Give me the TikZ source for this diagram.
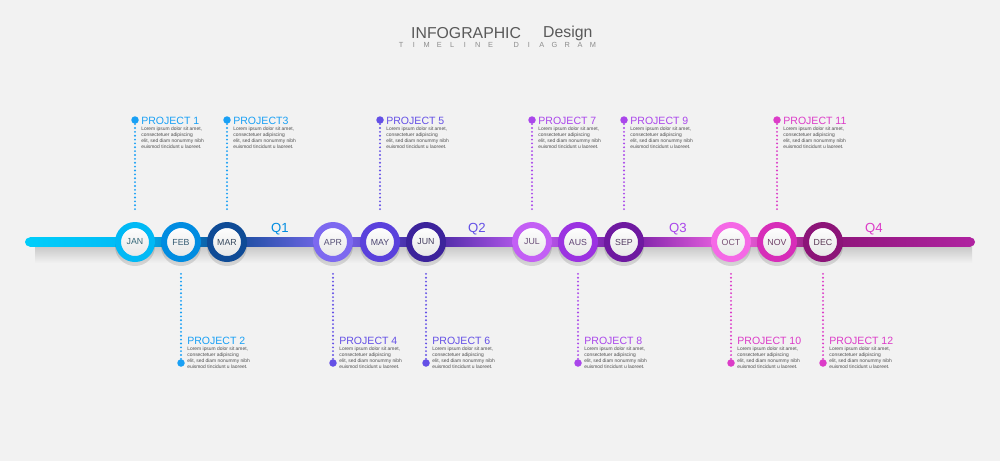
\documentclass[tikz,border=0pt]{standalone}
\usepackage{fontspec}
\setmainfont{Liberation Sans}
\definecolor{bg}{RGB}{242,242,242}
\definecolor{b0}{RGB}{0,205,250}
\definecolor{c1}{RGB}{0,185,245}
\definecolor{c2}{RGB}{0,140,225}
\definecolor{c3}{RGB}{15,75,150}
\definecolor{c4}{RGB}{125,105,240}
\definecolor{c5}{RGB}{90,65,220}
\definecolor{c6}{RGB}{60,35,155}
\definecolor{c7}{RGB}{195,95,245}
\definecolor{c8}{RGB}{155,50,225}
\definecolor{c9}{RGB}{110,25,160}
\definecolor{c10}{RGB}{245,105,230}
\definecolor{c11}{RGB}{215,45,185}
\definecolor{c12}{RGB}{140,20,120}
\definecolor{b13}{RGB}{175,35,160}
\definecolor{pa}{RGB}{25,160,245}
\definecolor{pb}{RGB}{100,80,230}
\definecolor{pc}{RGB}{170,70,235}
\definecolor{pd}{RGB}{220,60,200}
\newcommand{\lorem}{Lorem ipsum dolor sit amet,\\consectetuer adipiscing\\elit, sed diam nonummy nibh\\euismod tincidunt u laoreet.}
\begin{document}
\begin{tikzpicture}[x=0.02cm,y=-0.02cm,
  month/.style={circle,inner sep=0pt,minimum size=0.68cm,line width=3.4pt,
    top color=white,bottom color=gray!20,font=\fontsize{5}{6}\selectfont},
  dot/.style={circle,inner sep=0pt,minimum size=0.15cm},
  title/.style={anchor=west,inner sep=0pt,font=\fontsize{6}{7}\selectfont},
  body/.style={anchor=north west,inner sep=0pt,align=left,text=black!70,
    font=\fontsize{2.8}{3.3}\selectfont},
  link/.style={line width=1.2pt,line cap=round,dash pattern=on 0pt off 2.2pt,shorten >=6pt},
  quarter/.style={font=\fontsize{7.5}{8}\selectfont}]
  \useasboundingbox (0,0) rectangle (1000,461);
  \fill[bg] (0,0) rectangle (1000,461);
  % heading
  \node[anchor=west,text=black!65,font=\fontsize{9}{10}\selectfont] (info) at (405,33) {INFOGRAPHIC};
  \node[anchor=west,text=black!65,font=\fontsize{9}{10}\selectfont] (design) at (537,33) {Design};
  \foreach [count=\i] \l in {T,I,M,E,L,I,N,E,{},D,I,A,G,R,A,M}
    \node[text=black!45,font=\fontsize{4.2}{5}\selectfont] (tl\i) at ({401+(\i-1)*12.8},45) {\l};
  % time bar
  \shade[top color=black!18!bg,bottom color=bg] (35,246) rectangle (972,263);
  \fill[b0] (29.5,242) circle (4.5);
  \fill[b13] (970.5,242) circle (4.5);
  \foreach \xa/\xb/\ca/\cb in {29.5/135/b0/c1,135/227/c1/c3,227/333/c3/c4,333/426/c4/c6,
      426/532/c6/c7,532/624/c7/c9,624/731/c9/c10,731/823/c10/c12,823/970.5/c12/b13}
    \shade[left color=\ca,right color=\cb] (\xa,237.5) rectangle (\xb,246.5);
  % months
  \foreach \n/\x/\lbl in {1/135/JAN,2/181/FEB,3/227/MAR,4/333/APR,5/380/MAY,6/426/JUN,
      7/532/JUL,8/578/AUS,9/624/SEP,10/731/OCT,11/777/NOV,12/823/DEC}{
    \fill[black,opacity=0.12] (\x,246) circle (20);
    \node[month,draw=c\n,text=c\n!35!black!80] (m\n) at (\x,242) {\lbl};
  }
  \node[quarter,text=c2] (q1) at (280,229) {Q1};
  \node[quarter,text=pb] (q2) at (477,229) {Q2};
  \node[quarter,text=pc] (q3) at (678,229) {Q3};
  \node[quarter,text=pd] (q4) at (874,229) {Q4};
  % projects above the bar
  \foreach \n/\x/\c/\lbl in {1/135/pa/PROJECT 1,3/227/pa/PROJECT3,5/380/pb/PROJECT 5,
      7/532/pc/PROJECT 7,9/624/pc/PROJECT 9,11/777/pd/PROJECT 11}{
    \node[dot,fill=\c] (p\n) at (\x,120) {};
    \node[title,text=\c] (t\n) at (\x+6,121) {\lbl};
    \node[body] (b\n) at (\x+6,127) {\lorem};
    \draw[link,\c] (p\n) -- (m\n);
  }
  % projects below the bar
  \foreach \n/\x/\c/\lbl in {2/181/pa/PROJECT 2,4/333/pb/PROJECT 4,6/426/pb/PROJECT 6,
      8/578/pc/PROJECT 8,10/731/pd/PROJECT 10,12/823/pd/PROJECT 12}{
    \node[dot,fill=\c] (p\n) at (\x,363) {};
    \node[title,text=\c] (t\n) at (\x+6,341) {\lbl};
    \node[body] (b\n) at (\x+6,347) {\lorem};
    \draw[link,\c] (p\n) -- (m\n);
  }
\end{tikzpicture}
\end{document}
